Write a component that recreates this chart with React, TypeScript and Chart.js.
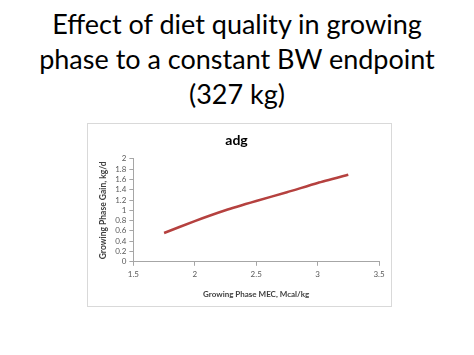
import React, { useEffect, useRef } from "react";
import { Chart, registerables } from "chart.js";

Chart.register(...registerables);

const slideTitleLines = ["Effect of diet quality in growing", "phase to a constant BW endpoint", "(327 kg)"];
const chartTitle = "adg";
const xAxisTitle = "Growing Phase MEC, Mcal/kg";
const yAxisTitle = "Growing Phase Gain, kg/d";
const mecValues = [1.75, 2.0, 2.25, 2.5, 2.75, 3.0, 3.25];
const adgValues = [0.56, 0.79, 1.0, 1.18, 1.35, 1.53, 1.69];

const fmt = (v: any) => String(Math.round(Number(v) * 10) / 10);

export default function App() {
  const canvasRef = useRef<HTMLCanvasElement | null>(null);

  useEffect(() => {
    if (!canvasRef.current) return;
    const chart = new Chart(canvasRef.current, {
      type: "scatter",
      data: {
        datasets: [
          {
            label: chartTitle,
            data: mecValues.map((x, i) => ({ x, y: adgValues[i] })),
            showLine: true,
            borderColor: "#B5413F",
            backgroundColor: "#B5413F",
            borderWidth: 2.5,
            pointRadius: 0,
            tension: 0.2,
          },
        ],
      },
      options: {
        animation: false,
        responsive: false,
        maintainAspectRatio: false,
        layout: { padding: { left: 6, right: 12, top: 0, bottom: 3 } },
        plugins: {
          legend: { display: false },
          tooltip: { enabled: false },
          title: {
            display: true,
            text: chartTitle,
            color: "#000",
            font: { family: "Lato", size: 14, weight: "bold" },
            padding: { top: 8, bottom: 10 },
          },
        },
        scales: {
          x: {
            type: "linear",
            min: 1.5,
            max: 3.5,
            ticks: { stepSize: 0.5, autoSkip: false, color: "#595959", font: { family: "Lato", size: 8 }, padding: 4, callback: fmt },
            grid: { drawOnChartArea: false, drawTicks: true, tickLength: 4, color: "#a6a6a6" },
            border: { color: "#a6a6a6" },
            title: {
              display: true,
              text: xAxisTitle,
              color: "#404040",
              font: { family: "Lato", size: 8, weight: "bold" },
              padding: { top: 6 },
            },
          },
          y: {
            min: 0,
            max: 2,
            ticks: { stepSize: 0.2, autoSkip: false, color: "#595959", font: { family: "Lato", size: 8 }, padding: 3, callback: fmt },
            grid: { drawOnChartArea: false, drawTicks: true, tickLength: 4, color: "#a6a6a6" },
            border: { color: "#a6a6a6" },
            title: {
              display: true,
              text: yAxisTitle,
              color: "#404040",
              font: { family: "Lato", size: 8.5, weight: "bold" },
              padding: { bottom: 4 },
            },
          },
        },
      },
    });
    return () => chart.destroy();
  }, []);

  return (
    <div style={{ position: "fixed", left: 0, top: 0, width: 474, height: 355, background: "#fff", overflow: "hidden" }}>
      <div
        style={{
          position: "absolute",
          left: 0,
          top: 6,
          width: 474,
          textAlign: "center",
          fontFamily: "Lato, 'Open Sans', sans-serif",
          fontSize: 27,
          lineHeight: "35px",
          color: "#000",
        }}
      >
        {slideTitleLines.map((l, i) => (
          <div key={i}>{l}</div>
        ))}
      </div>
      <div
        style={{
          position: "absolute",
          left: 87,
          top: 123,
          width: 305,
          height: 184,
          border: "1px solid #d9d9d9",
          boxSizing: "border-box",
        }}
      >
        <canvas ref={canvasRef} width={303} height={182} style={{ display: "block" }} />
      </div>
    </div>
  );
}
